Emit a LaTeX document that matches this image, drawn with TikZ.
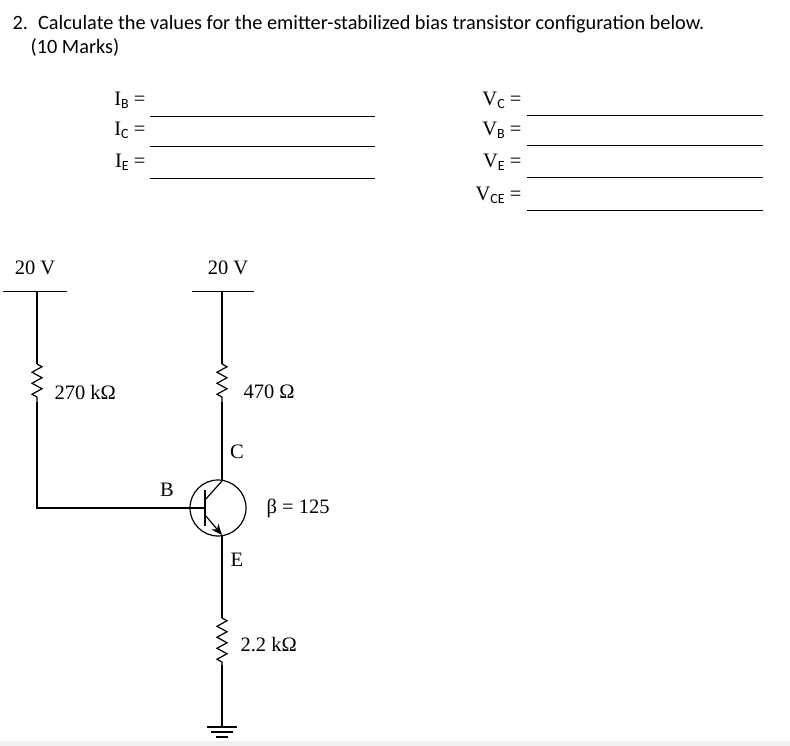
\documentclass[tikz,border=0pt]{standalone}
\usepackage{fontspec}
\setmainfont{Liberation Serif}
\newfontfamily\carlitofam{Carlito}
\usetikzlibrary{decorations.pathmorphing,arrows.meta}
\newcommand{\subb}[1]{\raisebox{-0.35ex}{\carlitofam\fontsize{14}{16}\selectfont #1}}
\begin{document}
\begin{tikzpicture}[x=1pt,y=-1pt,line width=1.2pt,
  lbl/.style={font=\fontsize{20.5}{24}\selectfont,inner sep=0},
  txt/.style={font=\carlitofam\fontsize{20.3}{24}\selectfont,anchor=west,inner sep=0},
  res/.style={decorate,decoration={zigzag,segment length=11pt,amplitude=5pt}},
  blank/.style={line width=0.7pt}]
\useasboundingbox (0,0) rectangle (790,746);
\fill[gray!12] (0,741) rectangle (790,746);
\node[txt] (t1) at (12,24) {2.\enspace Calculate the values for the emitter-stabilized bias transistor configuration below.};
\node[txt] (t2) at (30,47) {(10 Marks)};
% answer lines
\foreach \n/\s/\y in {ib/B/100,ic/C/130,ie/E/162}{
  \node[lbl,anchor=east] (\n) at (146,\y) {I\subb{\s} =};
  \draw[blank] (150,\y+16) -- (375,\y+16);}
\foreach \n/\s/\y in {vc/C/100,vb/B/130,ve/E/162,vce/CE/195}{
  \node[lbl,anchor=east] (\n) at (522,\y) {V\subb{\s} =};
  \draw[blank] (527,\y+15) -- (763,\y+15);}
% rails
\node[lbl] (s1) at (35,268) {20 V};
\node[lbl] (s2) at (228,268) {20 V};
\coordinate (r1) at (37,291); \coordinate (r2) at (222,291);
\draw[line width=0.8pt] (3,291) -- (67,291);
\draw[line width=0.8pt] (192,291) -- (254,291);
% transistor
\node[circle,draw,minimum size=56pt,inner sep=0] (q) at (218,508) {};
\coordinate (cc) at (222,481);
\coordinate (ee) at (222,535);
\coordinate (bb) at (205,508);
\draw (205,490) -- (205,526);
\draw (205,500) -- (cc);
\draw[-{Stealth[length=11pt,width=9pt]}] (205,515) -- (ee);
% left branch
\draw (r1) -- (37,364);
\draw[res] (37,364) -- (37,402);
\draw (37,402) -- (37,508) -- (bb);
% collector
\draw (r2) -- (222,364);
\draw[res] (222,364) -- (222,402);
\draw (222,402) -- (cc);
% emitter
\draw (ee) -- (222,618);
\draw[res] (222,618) -- (222,665);
\coordinate (g) at (222,727);
\draw (222,665) -- (g);
\draw (207,727) -- (237,727) (211,732) -- (233,732) (216,737) -- (228,737);
% labels
\node[lbl,anchor=west] (l1) at (54,392) {270 kΩ};
\node[lbl,anchor=west] (l2) at (243,392) {470 Ω};
\node[lbl] (lc) at (237,452) {C};
\node[lbl] (lb) at (167,490) {B};
\node[lbl] (le) at (237,560) {E};
\node[lbl,anchor=west] (lbeta) at (266,508) {β = 125};
\node[lbl,anchor=west] (l3) at (240,645) {2.2 kΩ};
\end{tikzpicture}
\end{document}
